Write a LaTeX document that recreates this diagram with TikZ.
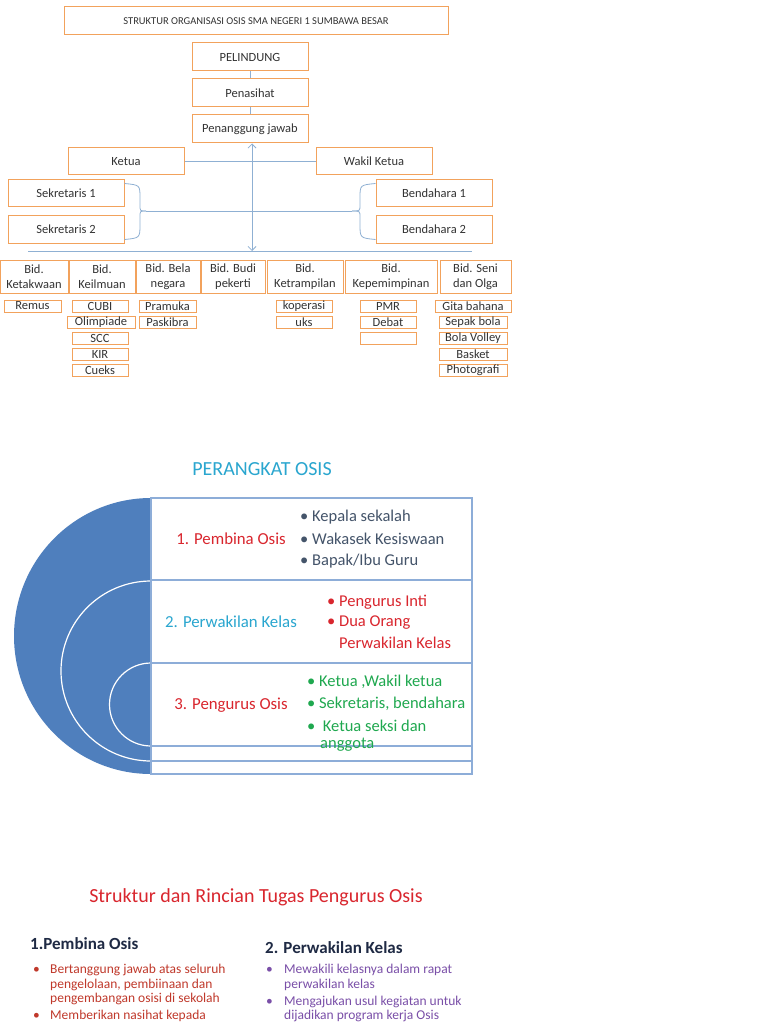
\documentclass[tikz,border=0pt]{standalone}
\usepackage{fontspec}
\setmainfont{Carlito}
\usetikzlibrary{arrows.meta}
\definecolor{org}{HTML}{F2A25C}
\definecolor{lb}{HTML}{8FB0D3}
\definecolor{discblue}{HTML}{4F7FBD}
\definecolor{rline}{HTML}{8DADD8}
\definecolor{tred}{HTML}{D9262E}
\definecolor{tcyan}{HTML}{2AA6CF}
\definecolor{tgrey}{HTML}{44546A}
\definecolor{tgreen}{HTML}{1FA84F}
\definecolor{tnavy}{HTML}{1F2A44}
\definecolor{tpurp}{HTML}{7A4FA8}
\definecolor{tbrown}{HTML}{C0392B}
\begin{document}
\begin{tikzpicture}[x=1pt,y=-1pt,
 box/.style={draw=org,line width=1pt,fill=white,inner sep=0pt,font=\fontsize{12.5}{13}\selectfont,text=black!80},
 bid/.style={box,minimum height=33pt,align=center,font=\fontsize{12.5}{15}\selectfont},
 sub/.style={box,minimum height=12pt,minimum width=56pt,font=\fontsize{12.5}{12}\selectfont},
 con/.style={draw=lb,line width=0.8pt},
 txt/.style={inner sep=0pt,anchor=west,font=\fontsize{16.5}{18}\selectfont}]
\useasboundingbox (0,0) rectangle (768,1024);
\fill[white] (0,0) rectangle (768,1024);
% top chart
\node[box,minimum width=384pt,minimum height=28pt,font=\fontsize{10.5}{11}\selectfont\scshape] (title) at (256,21) {STRUKTUR ORGANISASI OSIS SMA NEGERI 1 SUMBAWA BESAR};
\node[box,minimum width=116pt,minimum height=28pt] (pel) at (250,57) {PELINDUNG};
\node[box,minimum width=116pt,minimum height=28pt] (pen) at (250,93) {Penasihat};
\node[box,minimum width=116pt,minimum height=28pt] (pj) at (250,129) {Penanggung jawab};
\draw[con] (pel) -- (pen); \draw[con] (pen) -- (pj);
\node[box,minimum width=116pt,minimum height=27pt] (ket) at (126,161.5) {Ketua};
\node[box,minimum width=116pt,minimum height=27pt] (wak) at (374,161.5) {Wakil Ketua};
\draw[con] (ket) -- (wak);
\node[box,minimum width=116pt,minimum height=27pt] (s1) at (66,193.5) {Sekretaris 1};
\node[box,minimum width=116pt,minimum height=27pt] (s2) at (66,229.5) {Sekretaris 2};
\node[box,minimum width=116pt,minimum height=27pt] (b1) at (434,193.5) {Bendahara 1};
\node[box,minimum width=116pt,minimum height=27pt] (b2) at (434,229.5) {Bendahara 2};
\coordinate (lbr) at (146,211); \coordinate (rbr) at (352,211);
\draw[con] (s1.north east) ++(0,4) .. controls (140,185) .. (140,198) -- (140,205) .. controls (140,211) .. (lbr);
\draw[con] (s2.south east) ++(0,-4) .. controls (140,238) .. (140,224) -- (140,217) .. controls (140,211) .. (lbr);
\draw[con] (b1.north west) ++(0,4) .. controls (360,185) .. (360,198) -- (360,205) .. controls (360,211) .. (rbr);
\draw[con] (b2.south west) ++(0,-4) .. controls (360,238) .. (360,224) -- (360,217) .. controls (360,211) .. (rbr);
\draw[con] (lbr) -- (rbr);
\coordinate (hl) at (28,251); \coordinate (hr) at (472,251); \coordinate (hm) at (252,251);
\draw[con] (hl) -- (hr);
\draw[con,{Straight Barb[length=4pt]}-{Straight Barb[length=4pt]}] (pj.south -| hm) -- (hm);
% bid
\node[bid,minimum width=68pt] (d1) at (34,276.5) {Bid.\\Ketakwaan};
\node[bid,minimum width=66pt] (d2) at (102,276.5) {Bid.\\Keilmuan};
\node[bid,minimum width=64pt] (d3) at (168,276.5) {Bid. Bela\\negara};
\node[bid,minimum width=64pt] (d4) at (233,276.5) {Bid. Budi\\pekerti};
\node[bid,minimum width=76pt] (d5) at (305,276.5) {Bid.\\Ketrampilan};
\node[bid,minimum width=92pt] (d6) at (391,276.5) {Bid.\\Kepemimpinan};
\node[bid,minimum width=71pt] (d7) at (475.5,276.5) {Bid. Seni\\dan Olga};
\node[sub,minimum width=57pt] (r1) at (32.5,306) {Remus};
\node[sub] (k1) at (100,306) {CUBI};
\node[sub,minimum width=68pt] (k2) at (101,322) {Olimpiade};
\node[sub] (k3) at (100,338) {SCC};
\node[sub] (k4) at (100,354) {KIR};
\node[sub] (k5) at (100,370) {Cueks};
\node[sub,minimum width=57pt] (n1) at (167.5,306) {Pramuka};
\node[sub,minimum width=57pt] (n2) at (167.5,322) {Paskibra};
\node[sub] (t1) at (304,306) {koperasi};
\node[sub] (t2) at (304,322) {uks};
\node[sub] (p1) at (388,306) {PMR};
\node[sub] (p2) at (388,322) {Debat};
\node[sub] (p3) at (388,338) {};
\node[sub,minimum width=76pt] (o1) at (473,306) {Gita bahana};
\node[sub,minimum width=68pt] (o2) at (473,322) {Sepak bola};
\node[sub,minimum width=68pt] (o3) at (473,338) {Bola Volley};
\node[sub,minimum width=68pt] (o4) at (473,354) {Basket};
\node[sub,minimum width=68pt] (o5) at (473,370) {Photografi};
% middle
\node[inner sep=0pt,text=tcyan,font=\fontsize{20}{22}\selectfont] (pt) at (262,469) {PERANGKAT OSIS};
\fill[discblue] (151,498) arc[start angle=270,end angle=90,x radius=137,y radius=138] -- cycle;
\draw[white,line width=1.2pt] (151,581) arc[start angle=270,end angle=90,radius=90];
\draw[white,line width=1.2pt] (151,663) arc[start angle=270,end angle=90,radius=41.5];
\draw[rline,line width=1.2pt,fill=white] (151,498) rectangle (472,774);
\foreach \yy in {580,663,746,761} \draw[rline,line width=1.2pt] (151,\yy) -- (472,\yy);
\node[inner sep=0pt,text=tred,font=\fontsize{16.8}{18}\selectfont] (l1) at (231,539) {1. Pembina Osis};
\node[inner sep=0pt,text=tcyan,font=\fontsize{16.8}{18}\selectfont] (l2) at (231,622) {2. Perwakilan Kelas};
\node[inner sep=0pt,text=tred,font=\fontsize{16.8}{18}\selectfont] (l3) at (231,705) {3. Pengurus Osis};
\node[txt,text=tgrey] (a1) at (300,517) {• Kepala sekalah};
\node[txt,text=tgrey] (a2) at (300,539) {• Wakasek Kesiswaan};
\node[txt,text=tgrey] (a3) at (300,561) {• Bapak/Ibu Guru};
\node[txt,text=tred] (b1t) at (327,602) {• Pengurus Inti};
\node[txt,text=tred] (b2t) at (327,623) {• Dua Orang};
\node[txt,text=tred] (b3t) at (339,643) {Perwakilan Kelas};
\node[txt,text=tgreen] (c1) at (307,682) {• Ketua ,Wakil ketua};
\node[txt,text=tgreen] (c2) at (307,704) {• Sekretaris, bendahara};
\node[txt,text=tgreen] (c3) at (307,726) {•\ \ Ketua seksi dan};
\node[txt,text=tgreen] (c4) at (320,745) {anggota};
% bottom
\node[inner sep=0pt,text=tred,font=\fontsize{20}{22}\selectfont] (bt) at (256,897) {Struktur dan Rincian Tugas Pengurus Osis};
\node[txt,text=tnavy,font=\bfseries\fontsize{17}{19}\selectfont] (h1) at (30,944) {1.Pembina Osis};
\node[txt,text=tnavy,font=\bfseries\fontsize{17}{19}\selectfont] (h2) at (265,948) {2. Perwakilan Kelas};
\begin{scope}[every node/.style={txt,font=\fontsize{13.5}{15}\selectfont}]
\node[text=tbrown] (e0) at (33,970) {•};
\node[text=tbrown] (e1) at (50,970) {Bertanggung jawab atas seluruh};
\node[text=tbrown] (e2) at (50,985) {pengelolaan, pembiinaan dan};
\node[text=tbrown] (e3) at (50,999) {pengembangan osisi di sekolah};
\node[text=tbrown] (e4) at (33,1016) {•};
\node[text=tbrown] (e5) at (50,1016) {Memberikan nasihat kepada};
\node[text=tpurp] (f0) at (266,970) {•};
\node[text=tpurp] (f1) at (284,970) {Mewakili kelasnya dalam rapat};
\node[text=tpurp] (f2) at (284,985) {perwakilan kelas};
\node[text=tpurp] (f3) at (266,1002) {•};
\node[text=tpurp] (f4) at (284,1002) {Mengajukan usul kegiatan untuk};
\node[text=tpurp] (f5) at (284,1016) {dijadikan program kerja Osis};
\end{scope}
\end{tikzpicture}
\end{document}
